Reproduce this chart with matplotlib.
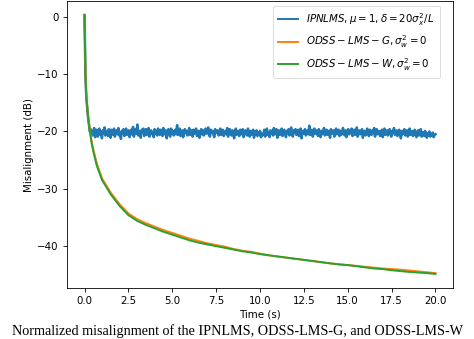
import numpy as np
import matplotlib
matplotlib.use("Agg")
import matplotlib.pyplot as plt

# ---- data ----
curve_t = [0.0, 0.05, 0.1, 0.2, 0.3, 0.4, 0.5, 0.7, 1.0, 1.5, 2.0, 2.5, 3.0, 3.5,
           4.0, 4.5, 5.0, 5.5, 6.0, 6.5, 7.0, 7.5, 8.0, 8.5, 9.0, 9.5, 10.0, 10.5,
           11.0, 11.5, 12.0, 12.5, 13.0, 13.5, 14.0, 14.5, 15.0, 15.5, 16.0, 16.5,
           17.0, 17.5, 18.0, 18.5, 19.0, 19.5, 20.0]
green_v = [0.3, -10.0, -14.0, -17.5, -20.0, -22.0, -23.5, -26.0, -28.5, -31.0, -33.0,
           -34.6, -35.6, -36.3, -36.9, -37.5, -38.0, -38.5, -39.0, -39.4, -39.7, -40.0,
           -40.3, -40.6, -40.9, -41.1, -41.4, -41.6, -41.8, -42.0, -42.2, -42.4, -42.6,
           -42.8, -43.0, -43.2, -43.3, -43.5, -43.7, -43.9, -44.0, -44.2, -44.35, -44.5,
           -44.6, -44.7, -44.85]
orange_v = [0.3, -10.0, -13.8, -17.2, -19.6, -21.6, -23.1, -25.6, -28.2, -30.7, -32.7,
            -34.3, -35.3, -36.0, -36.6, -37.2, -37.7, -38.2, -38.7, -39.1, -39.5, -39.8,
            -40.1, -40.5, -40.8, -41.0, -41.3, -41.6, -41.8, -42.0, -42.2, -42.4, -42.6,
            -42.8, -43.0, -43.15, -43.3, -43.45, -43.6, -43.75, -43.9, -44.0, -44.1, -44.25,
            -44.4, -44.55, -44.7]

blue_head_t = [0.0, 0.05, 0.1, 0.2, 0.3]
blue_head_v = [0.3, -10.0, -14.0, -17.5, -20.0]
blue_noise = [
    -19.6, -20.8, -19.9, -20.5, -19.4, -21.0, -20.1, -19.7, -20.9, -20.3,
    -19.5, -20.6, -20.0, -21.2, -19.8, -20.4, -19.3, -20.7, -20.2, -19.9,
    -20.8, -19.6, -20.3, -21.1, -19.7, -20.0, -20.6, -19.5, -20.9, -20.2,
    -19.8, -20.5, -19.4, -20.7, -20.1, -21.3, -19.9, -20.4, -19.6, -20.8,
    -20.0, -19.5, -20.6, -20.2, -19.8, -21.0, -20.3, -19.7, -20.5, -19.2,
    -20.9, -20.1, -19.6, -20.4, -18.8, -20.7, -19.9, -20.3, -21.1, -19.7,
    -20.2, -19.5, -20.8, -20.0, -19.6, -20.6, -20.3, -19.4, -20.9, -20.1,
    -19.8, -20.5, -20.2, -21.0, -19.6, -20.4, -19.9, -20.7, -19.5, -20.3,
    -20.6, -19.7, -20.1, -20.8, -19.4, -20.5, -20.0, -19.8, -21.2, -20.2,
    -19.6, -20.4, -20.9, -19.5, -20.3, -19.9, -20.7, -20.1, -19.7, -20.5,
    -18.9, -20.6, -20.0, -19.5, -20.8, -20.2, -19.8, -21.0, -20.4, -19.6,
    -20.3, -19.9, -20.7, -20.1, -19.4, -20.6, -20.2, -19.8, -20.9, -19.7,
    -20.4, -20.0, -19.5, -20.8, -20.3, -19.9, -21.1, -20.2, -19.6, -20.5,
    -19.8, -20.7, -20.1, -19.5, -20.4, -20.0, -19.3, -20.6, -20.9, -19.7,
    -20.2, -19.9, -20.5, -21.0, -19.6, -20.3, -20.1, -19.8, -20.7, -20.4,
    -19.5, -20.6, -20.0, -19.7, -20.8, -20.2, -19.9, -20.5, -19.4, -20.9,
    -20.3, -19.6, -20.1, -20.7, -19.8, -20.4, -21.2, -20.0, -19.5, -20.6,
    -20.2, -19.9, -20.8, -19.7, -20.3, -20.5, -19.6, -21.0, -20.1, -19.8,
    -20.4, -20.7, -19.5, -20.2, -20.9, -19.9, -20.6, -20.3, -19.7, -21.1,
    -20.0, -20.5, -19.8, -20.8, -20.2, -20.6, -19.9, -21.0, -20.4, -20.7,
    -20.3, -19.7, -20.9, -20.0, -19.5, -20.6, -20.2, -21.0, -19.8, -20.4,
    -19.9, -20.7, -19.4, -20.5, -20.1, -19.6, -21.1, -20.3, -19.8, -20.6,
    -20.0, -19.5, -20.8, -20.2, -19.7, -20.4, -21.0, -19.9, -20.3, -19.6,
    -20.7, -20.1, -19.3, -20.5, -20.9, -19.8, -20.2, -19.6, -20.6, -20.0,
    -19.7, -20.8, -20.3, -19.5, -21.2, -20.1, -19.9, -20.4, -19.6, -20.7,
    -20.2, -19.8, -20.5, -19.0, -20.6, -20.0, -19.7, -20.9, -20.3, -19.5,
    -20.4, -20.1, -19.8, -20.8, -19.6, -20.2, -21.0, -19.9, -20.5, -20.0,
    -19.4, -20.7, -20.3, -19.7, -20.6, -19.9, -20.1, -21.1, -19.6, -20.4,
    -20.2, -19.8, -20.9, -20.0, -19.5, -20.5, -20.3, -19.7, -20.8, -19.9,
    -20.6, -20.1, -19.4, -20.4, -20.7, -19.8, -21.0, -20.2, -19.6, -20.5,
    -19.9, -20.3, -19.5, -20.8, -20.0, -19.7, -20.6, -20.4, -19.3, -20.9,
    -20.1, -19.8, -20.5, -20.2, -19.6, -21.1, -20.0, -19.9, -20.7, -20.3,
    -19.5, -20.4, -20.8, -19.7, -20.1, -20.6, -19.8, -20.3, -19.4, -20.9,
    -20.2, -19.6, -20.5, -20.0, -19.9, -20.8, -20.4, -19.7, -21.0, -20.1,
    -19.5, -20.6, -20.3, -19.8, -20.7, -20.0, -19.6, -20.5, -20.9, -19.9,
    -20.2, -19.4, -20.6, -20.1, -19.8, -20.8, -20.3, -19.7, -20.4, -21.2,
    -19.9, -20.5, -20.0, -19.6, -20.7, -20.2, -19.8, -20.9, -20.4, -19.5,
    -20.6, -20.1, -19.9, -20.8, -20.3, -19.7, -20.5, -21.0, -20.0, -19.8,
    -20.7, -20.2, -19.6, -20.9, -20.4, -20.1, -20.8, -19.9, -20.6, -21.1,
    -20.3, -20.7, -20.0, -20.9, -20.4, -20.8, -20.2, -21.0, -20.6, -20.5,
]

labels = [r"$IPNLMS, \mu=1, \delta=20\sigma_x^2/L$",
          r"$ODSS-LMS-G, \sigma_w^2=0$",
          r"$ODSS-LMS-W, \sigma_w^2=0$"]
x_ticks = [0.0, 2.5, 5.0, 7.5, 10.0, 12.5, 15.0, 17.5, 20.0]
y_ticks = [0, -10, -20, -30, -40]
caption = "Normalized misalignment of the IPNLMS, ODSS-LMS-G, and ODSS-LMS-W"

# ---- figure ----
W, H = 474, 339
fig = plt.figure(figsize=(W / 100, H / 100), dpi=100)
ax = fig.add_axes([67 / W, (H - 288) / H, (453 - 67) / W, (288 - 1) / H])

blue_t = np.concatenate([blue_head_t, np.linspace(0.35, 20.0, len(blue_noise))])
blue_v = np.concatenate([blue_head_v, blue_noise])

lw = 1.4
ax.plot(blue_t, blue_v, color="#1f77b4", lw=1.8, label=labels[0])
ax.plot(curve_t, orange_v, color="#ff7f0e", lw=lw, label=labels[1])
ax.plot(curve_t, green_v, color="#2ca02c", lw=lw, label=labels[2])

ax.set_xlim(-1, 21)
ax.set_ylim(-47.3, 2.75)
ax.set_xticks(x_ticks)
ax.set_xticklabels([f"{v:.1f}" for v in x_ticks])
ax.set_yticks(y_ticks)
fs = 7.4
ax.tick_params(labelsize=fs, length=2.6, width=0.6, pad=3.5)
for s in ax.spines.values():
    s.set_linewidth(0.6)
ax.set_xlabel("Time (s)", fontsize=fs, labelpad=2)
ax.set_ylabel("Misalignment (dB)", fontsize=fs, labelpad=2)

leg = ax.legend(loc="upper right", fontsize=fs, handlelength=2.0,
                borderpad=0.5, labelspacing=0.55, framealpha=0.8,
                borderaxespad=0,
                bbox_to_anchor=((440 - 67) / 386, 1 - 5 / 287))
leg.get_frame().set_linewidth(0.6)
for h in leg.get_lines():
    h.set_linewidth(1.4)

fig.text(0.5, 4 / H, caption, ha="center", va="baseline",
         fontsize=10.2, family="Liberation Serif")

fig.savefig("out.png", dpi=100)
